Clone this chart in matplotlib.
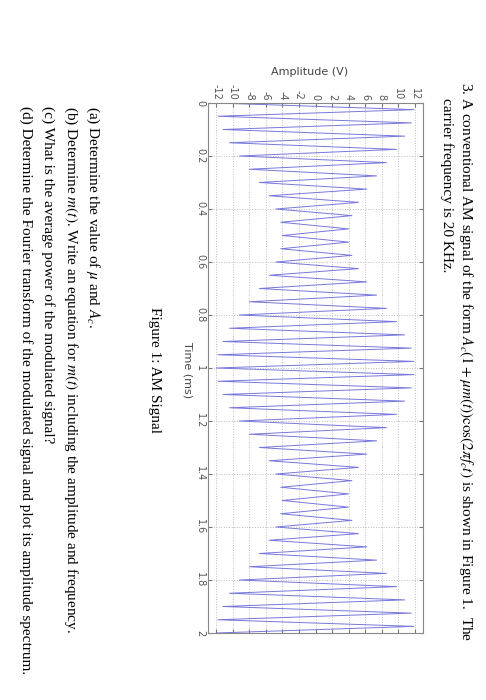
import matplotlib
matplotlib.use("Agg")
import matplotlib.pyplot as plt
import numpy as np

plt.rcParams["mathtext.fontset"] = "stix"

# envelope peak values read at every half carrier cycle (0.025 ms step), one 1 ms period
period_peaks = [12.0, 11.9, 11.8, 11.6, 11.2, 10.8, 10.4, 9.8, 9.2, 8.6, 8.0,
                7.4, 6.8, 6.2, 5.6, 5.2, 4.8, 4.4, 4.2, 4.0, 4.0, 4.0, 4.2, 4.4,
                4.8, 5.2, 5.6, 6.2, 6.8, 7.4, 8.0, 8.6, 9.2, 9.8, 10.4, 10.8,
                11.2, 11.6, 11.8, 11.9]
peaks = period_peaks + period_peaks + [12.0]
time_ms = [k * 0.025 for k in range(len(peaks))]
signs = [-1 if k % 2 == 0 else 1 for k in range(len(peaks))]
signal = [s * p for s, p in zip(signs, peaks)]

amp_ticks = list(range(-12, 13, 2))
time_ticks = [0, 0.2, 0.4, 0.6, 0.8, 1, 1.2, 1.4, 1.6, 1.8, 2]

W, H = 486, 700
fig = plt.figure(figsize=(W / 100, H / 100), dpi=100)

ax = fig.add_axes([208 / W, 1 - 633 / H, (423 - 208) / W, (633 - 103) / H])
ax.plot(signal, time_ms, color="#7777dd", lw=0.7)
ax.set_xlim(-13, 13)
ax.set_ylim(2, 0)
ax.set_xticks(amp_ticks)
ax.set_yticks(time_ticks)
ax.xaxis.tick_top()
ax.set_xticklabels([str(v) for v in amp_ticks], rotation=-90, fontsize=7, color="#555")
ax.set_yticklabels([str(v) for v in time_ticks], rotation=-90, fontsize=7, color="#555", va="center")
ax.tick_params(direction="in", length=3, pad=2, top=True, bottom=True, left=True, right=True,
               color="#777")
ax.grid(True, ls=":", color="#bbb", lw=0.7)
for s in ax.spines.values():
    s.set_color("#888")

fig.text(310 / W, 1 - 72 / H, "Amplitude (V)", ha="center", va="center", fontsize=8, color="#444")
fig.text(187 / W, 1 - 370 / H, "Time (ms)", ha="center", va="center", rotation=-90, fontsize=8, color="#444")

serif = "Liberation Serif"
fs = 11
fig.text(466 / W, 1 - 82 / H,
         r"3. A conventional AM signal of the form $A_c(1+\mu m(t))\cos(2\pi f_c t)$ is shown in Figure 1.  The",
         rotation=-90, ha="center", va="top", fontsize=fs, family=serif)
fig.text(447 / W, 1 - 98 / H, "carrier frequency is 20 KHz.",
         rotation=-90, ha="center", va="top", fontsize=fs, family=serif)
fig.text(155 / W, 1 - 370 / H, "Figure 1: AM Signal",
         rotation=-90, ha="center", va="center", fontsize=fs, family=serif)
questions = [
    r"(a) Determine the value of $\mu$ and $A_c$.",
    r"(b) Determine $m(t)$. Write an equation for $m(t)$ including the amplitude and frequency.",
    "(c) What is the average power of the modulated signal?",
    "(d) Determine the Fourier transform of the modulated signal and plot its amplitude spectrum.",
]
for i, q in enumerate(questions):
    fig.text((93 - 22.5 * i) / W, 1 - 106 / H, q,
             rotation=-90, ha="center", va="top", fontsize=fs, family=serif)

fig.savefig("out.png", dpi=100)
